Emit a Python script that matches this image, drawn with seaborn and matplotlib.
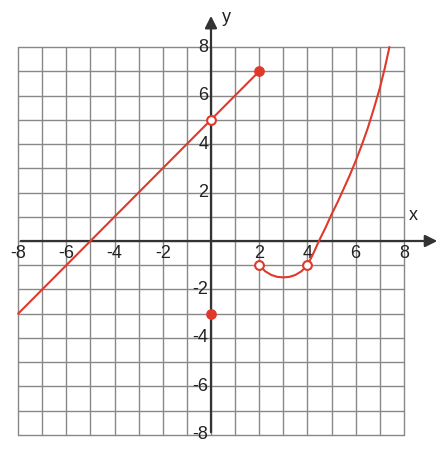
import seaborn as sns
import matplotlib.pyplot as plt
import pandas as pd

# piece 1: straight line from x=-8 to x=2
line_x = [-8, 2]
line_y = [-3, 7]
# piece 2: curve
curve_x = [2, 2.25, 2.5, 2.75, 3, 3.25, 3.5, 3.75, 4, 4.25, 4.5, 4.75, 5, 5.25, 5.5,
           5.75, 6, 6.25, 6.5, 6.75, 7, 7.2, 7.4]
curve_y = [-1, -1.25, -1.4, -1.48, -1.5, -1.48, -1.4, -1.25, -1, -0.5, 0.05, 0.55, 1.1,
           1.6, 2.15, 2.7, 3.3, 3.95, 4.65, 5.45, 6.3, 7.1, 8]
closed_x = [2, 0]
closed_y = [7, -3]
open_x = [0, 2, 4]
open_y = [5, -1, -1]
ticks = [-8, -6, -4, -2, 2, 4, 6, 8]

red = '#e0392b'
sns.set_style('white')
plt.rcParams['font.family'] = ['Liberation Sans', 'DejaVu Sans']
fig = plt.figure(figsize=(4.42, 4.58), dpi=100)
ax = fig.add_axes([0, 0, 1, 1])
ax.set_xlim(-8.75, 9.58)
ax.set_ylim(-8.95, 9.94)
ax.axis('off')

for v in range(-8, 9):
    ax.plot([v, v], [-8, 8], color='#888888', lw=1, zorder=1)
    ax.plot([-8, 8], [v, v], color='#888888', lw=1, zorder=1)

ax.annotate('', xy=(9.5, 0), xytext=(-8, 0),
            arrowprops=dict(arrowstyle='-|>', color='#333333', lw=1.6, mutation_scale=18), zorder=2)
ax.annotate('', xy=(0, 9.4), xytext=(0, -8),
            arrowprops=dict(arrowstyle='-|>', color='#333333', lw=1.6, mutation_scale=18), zorder=2)
ax.text(8.4, 0.7, 'x', fontsize=13, ha='center', va='bottom', color='#222222')
ax.text(0.45, 9.2, 'y', fontsize=13, ha='left', va='center', color='#222222')

for t in ticks:
    ax.text(t, -0.15, str(t), fontsize=13, ha='center', va='top', color='#222222', zorder=3)
    ax.text(-0.1, t, str(t), fontsize=13, ha='right', va='center', color='#222222', zorder=3)

sns.lineplot(data=pd.DataFrame({'x': line_x, 'y': line_y}), x='x', y='y',
             color=red, lw=1.5, ax=ax, zorder=4, sort=False)
sns.lineplot(data=pd.DataFrame({'x': curve_x, 'y': curve_y}), x='x', y='y',
             color=red, lw=1.5, ax=ax, zorder=4, sort=False)
ax.scatter(closed_x, closed_y, s=45, color=red, zorder=5)
ax.scatter(open_x, open_y, s=40, facecolor='white', edgecolor=red, linewidth=1.5, zorder=5)
ax.set_xlabel('')
ax.set_ylabel('')

fig.savefig('out.png', dpi=100)
